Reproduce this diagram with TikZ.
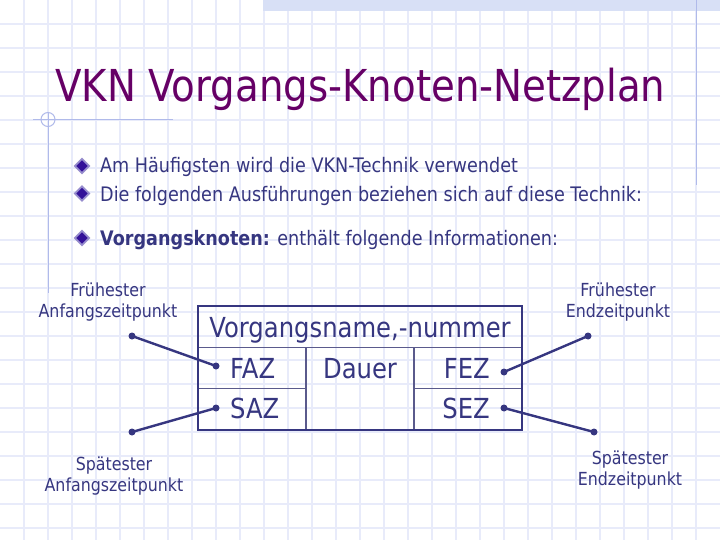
\documentclass[tikz,border=0pt]{standalone}
\usepackage{fontspec}
\setmainfont{DejaVu Sans}[FakeStretch=0.88]
\usetikzlibrary{shapes.geometric}
\definecolor{titlec}{RGB}{102,0,102}
\definecolor{textc}{RGB}{54,54,128}
\definecolor{gridc}{RGB}{232,235,250}
\definecolor{decoc}{RGB}{176,186,234}
\definecolor{bandc}{RGB}{216,224,246}
\definecolor{bulletin}{RGB}{51,17,153}
\definecolor{bulletout}{RGB}{150,140,205}
\definecolor{innerc}{RGB}{90,90,140}
\tikzset{
  gridline/.style={gridc, line width=1.1pt},
  deco/.style={decoc, line width=1pt},
  bulletmark/.style={diamond, fill=bulletin, draw=bulletout, line width=1.8pt, minimum size=15pt, inner sep=0pt},
  bodytext/.style={text=textc, inner sep=0pt, anchor=base west, font=\fontsize{20}{24}\selectfont},
  cell/.style={text=textc, inner sep=0pt, font=\fontsize{27.6}{32}\selectfont},
  lbl/.style={text=textc, inner sep=0pt, align=center, font=\fontsize{18}{21}\selectfont},
  dot/.style={circle, fill=textc, inner sep=0pt, minimum size=7pt},
  conn/.style={textc, line width=2.4pt},
  outerbox/.style={textc, line width=2.5pt},
  innerline/.style={innerc, line width=1.2pt}
}
\begin{document}
\begin{tikzpicture}[x=1pt,y=-1pt]
\useasboundingbox (0,0) rectangle (720,540);
\fill[white] (0,0) rectangle (720,540);
% background grid
\foreach \i in {1,...,29} \draw[gridline] (\i*24,0) -- (\i*24,540);
\foreach \j in {1,...,22} \draw[gridline] (0,\j*24) -- (720,\j*24);
% decorations
\fill[bandc] (263,0) rectangle (720,11);
\draw[deco] (696,0) -- (696,185);
\draw[deco] (33,119.5) -- (173,119.5);
\draw[deco] (48,112) -- (48,293);
\draw[deco] (48,119.5) circle[radius=7pt];
% title
\node[anchor=base west, text=titlec, inner sep=0pt, font=\fontsize{44}{52}\selectfont] (title) at (55,102) {VKN Vorgangs-Knoten-Netzplan};
% bullets
\node[bulletmark] (b1) at (82,166) {};
\node[bodytext] (t1) at (100,173) {Am Häufigsten wird die VKN-Technik verwendet};
\node[bulletmark] (b2) at (82,193.5) {};
\node[bodytext] (t2) at (100,201.5) {Die folgenden Ausführungen beziehen sich auf diese Technik:};
\node[bulletmark] (b3) at (82,238) {};
\node[bodytext] (t3) at (100,245) {\textbf{Vorgangsknoten:} enthält folgende Informationen:};
% table
\draw[innerline] (198,347.5) -- (522,347.5);
\draw[innerline] (306,347.5) -- (306,430);
\draw[innerline] (414,347.5) -- (414,430);
\draw[innerline] (198,388.5) -- (306,388.5);
\draw[innerline] (414,388.5) -- (522,388.5);
\draw[outerbox] (198,306) rectangle (522,430);
\node[cell, anchor=base] (head) at (360,337) {Vorgangsname,-nummer};
\node[cell, anchor=base west] (faz) at (230,378.5) {FAZ};
\node[cell, anchor=base] (dauer) at (360,378.5) {Dauer};
\node[cell, anchor=base east] (fez) at (490,378.5) {FEZ};
\node[cell, anchor=base west] (saz) at (230,418.5) {SAZ};
\node[cell, anchor=base east] (sez) at (490,418.5) {SEZ};
% labels
\node[lbl] (l1) at (108,302) {Frühester\\Anfangszeitpunkt};
\node[lbl] (l2) at (114,476) {Spätester\\Anfangszeitpunkt};
\node[lbl] (l3) at (618,302) {Frühester\\Endzeitpunkt};
\node[lbl] (l4) at (630,470) {Spätester\\Endzeitpunkt};
% connectors
\node[dot] (d1) at (216,366) {};
\node[dot] (d1o) at (132,336) {};
\node[dot] (d2) at (216,408) {};
\node[dot] (d2o) at (132,432) {};
\node[dot] (d3) at (504,372) {};
\node[dot] (d3o) at (588,336) {};
\node[dot] (d4) at (504,408) {};
\node[dot] (d4o) at (594,432) {};
\draw[conn] (d1o.center) -- (d1.center);
\draw[conn] (d2o.center) -- (d2.center);
\draw[conn] (d3o.center) -- (d3.center);
\draw[conn] (d4o.center) -- (d4.center);
\end{tikzpicture}
\end{document}
